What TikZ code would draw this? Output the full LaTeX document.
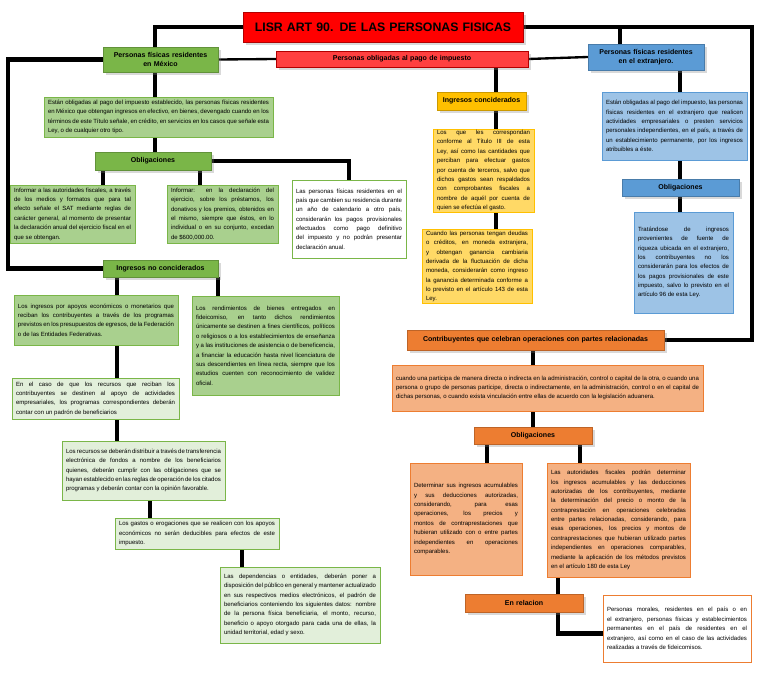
\documentclass[tikz,border=0pt]{standalone}
\usepackage{fontspec}
\setmainfont{Liberation Sans}
\usetikzlibrary{backgrounds,shadows}
\AtBeginDocument{\hyphenpenalty=10000 \exhyphenpenalty=10000}
\definecolor{hgreen}{HTML}{7AB648}
\definecolor{tgreen}{HTML}{A9D08E}
\definecolor{lgreen}{HTML}{E2EFDA}
\definecolor{hyellow}{HTML}{FFC000}
\definecolor{tyellow}{HTML}{FFD966}
\definecolor{hblue}{HTML}{5B9BD5}
\definecolor{tblue}{HTML}{9DC3E6}
\definecolor{horange}{HTML}{ED7D31}
\definecolor{torange}{HTML}{F4B183}
\newcommand\bx[7]{\pgfmathsetmacro\bw{(#4-#2-8)*0.03}\pgfmathsetmacro\bh{(#5-#3)*0.03}%
  \node[#1,text width=\bw cm,minimum height=\bh cm] (#6) at ({(#2+#4)/2},{(#3+#5)/2}) {#7};}
\tikzset{
  box/.style={draw,inner xsep=0.12cm,inner ysep=1pt,align=justify,
    font=\fontsize{5.15}{8}\selectfont},
  head/.style={box,align=center,font=\fontsize{6}{7.5}\selectfont\bfseries,drop shadow={opacity=.3}},
  conn/.style={line width=4pt}
}
\begin{document}
\begin{tikzpicture}[x=0.03cm,y=-0.03cm]
\useasboundingbox (0,0) rectangle (768,674);
% headers
\bx{head,fill=red,draw=red!70!black,font=\fontsize{10.5}{12}\selectfont\bfseries}{243}{12}{523}{42}{title}{LISR ART 90. DE LAS PERSONAS FISICAS}
\bx{head,fill=hgreen,draw=hgreen!80!black}{103}{47}{218}{72}{mx}{Personas físicas residentes\\en México}
\bx{head,fill=red!75,draw=red!70!black}{276}{51}{528}{67}{oblig}{Personas obligadas al pago de impuesto}
\bx{head,fill=hblue,draw=hblue!80!black}{588}{44}{704}{70}{ext}{Personas físicas residentes\\en el extranjero.}
% Mexico
\bx{box,fill=tgreen,draw=hgreen}{44}{97}{273}{137}{mxtxt}{Están obligadas al pago del impuesto establecido, las personas físicas residentes en México que obtengan ingresos en efectivo, en bienes, devengado cuando en los términos de este Título señale, en crédito, en servicios en los casos que señale esta Ley, o de cualquier otro tipo.}
\bx{head,fill=hgreen,draw=hgreen!80!black}{95}{152}{211}{170}{mxob}{Obligaciones}
\bx{box,fill=tgreen,draw=hgreen}{10}{185}{135}{243}{ob1}{Informar a las autoridades fiscales, a través de los medios y formatos que para tal efecto señale el SAT mediante reglas de carácter general, al momento de presentar la declaración anual del ejercicio fiscal en el que se obtengan.}
\bx{box,fill=tgreen,draw=hgreen}{167}{185}{278}{243}{ob2}{Informar: en la declaración del ejercicio, sobre los préstamos, los donativos y los premios, obtenidos en el mismo, siempre que éstos, en lo individual o en su conjunto, excedan de \$600,000.00.}
\bx{box,fill=white,draw=hgreen}{292}{180}{406}{258}{ob3}{Las personas físicas residentes en el país que cambien su residencia durante un año de calendario a otro país, considerarán los pagos provisionales efectuados como pago definitivo del impuesto y no podrán presentar declaración anual.}
\bx{head,fill=hgreen,draw=hgreen!80!black}{103}{260}{218}{277}{ingno}{Ingresos no conciderados}
\bx{box,fill=tgreen,draw=hgreen}{14}{295}{178}{345}{no1}{Los ingresos por apoyos económicos o monetarios que reciban los contribuyentes a través de los programas previstos en los presupuestos de egresos, de la Federación o de las Entidades Federativas.}
\bx{box,fill=tgreen,draw=hgreen}{192}{296}{339}{395}{no2}{Los rendimientos de bienes entregados en fideicomiso, en tanto dichos rendimientos únicamente se destinen a fines científicos, políticos o religiosos o a los establecimientos de enseñanza y a las instituciones de asistencia o de beneficencia, a financiar la educación hasta nivel licenciatura de sus descendientes en línea recta, siempre que los estudios cuenten con reconocimiento de validez oficial.}
\bx{box,fill=lgreen,draw=hgreen}{12}{378}{179}{419}{no3}{En el caso de que los recursos que reciban los contribuyentes se destinen al apoyo de actividades empresariales, los programas correspondientes deberán contar con un padrón de beneficiarios}
\bx{box,fill=lgreen,draw=hgreen}{62}{441}{225}{500}{no4}{Los recursos se deberán distribuir a través de transferencia electrónica de fondos a nombre de los beneficiarios quienes, deberán cumplir con las obligaciones que se hayan establecido en las reglas de operación de los citados programas y deberán contar con la opinión favorable.}
\bx{box,fill=lgreen,draw=hgreen}{115}{518}{279}{549}{no5}{Los gastos o erogaciones que se realicen con los apoyos económicos no serán deducibles para efectos de este impuesto.}
\bx{box,fill=lgreen,draw=hgreen}{220}{567}{380}{643}{no6}{Las dependencias o entidades, deberán poner a disposición del público en general y mantener actualizado en sus respectivos medios electrónicos, el padrón de beneficiarios conteniendo los siguientes datos: nombre de la persona física beneficiaria, el monto, recurso, beneficio o apoyo otorgado para cada una de ellas, la unidad territorial, edad y sexo.}
% ingresos considerados
\bx{head,fill=hyellow,draw=hyellow!80!black}{437}{92}{526}{110}{ingsi}{Ingresos conciderados}
\bx{box,fill=tyellow,draw=hyellow}{433}{133}{534}{208}{si1}{Los que les correspondan conforme al Título III de esta Ley, así como las cantidades que perciban para efectuar gastos por cuenta de terceros, salvo que dichos gastos sean respaldados con comprobantes fiscales a nombre de aquél por cuenta de quien se efectúa el gasto.}
\bx{box,fill=tyellow,draw=hyellow}{422}{235}{532}{298}{si2}{Cuando las personas tengan deudas o créditos, en moneda extranjera, y obtengan ganancia cambiaria derivada de la fluctuación de dicha moneda, considerarán como ingreso la ganancia determinada conforme a lo previsto en el artículo 143 de esta Ley.}
% extranjero
\bx{box,fill=tblue,draw=hblue}{602}{92}{747}{160}{exttxt}{Están obligadas al pago del impuesto, las personas físicas residentes en el extranjero que realicen actividades empresariales o presten servicios personales independientes, en el país, a través de un establecimiento permanente, por los ingresos atribuibles a éste.}
\bx{head,fill=hblue,draw=hblue!80!black}{622}{179}{739}{196}{extob}{Obligaciones}
\bx{box,fill=tblue,draw=hblue}{634}{212}{733}{313}{ext1}{Tratándose de ingresos provenientes de fuente de riqueza ubicada en el extranjero, los contribuyentes no los considerarán para los efectos de los pagos provisionales de este impuesto, salvo lo previsto en el artículo 96 de esta Ley.}
% partes relacionadas
\bx{head,fill=horange,draw=horange!80!black}{407}{330}{664}{350}{rel}{Contribuyentes que celebran operaciones con partes relacionadas}
\bx{box,fill=torange,draw=horange}{392}{365}{703}{411}{reltxt}{cuando una participa de manera directa o indirecta en la administración, control o capital de la otra, o cuando una persona o grupo de personas participe, directa o indirectamente, en la administración, control o en el capital de dichas personas, o cuando exista vinculación entre ellas de acuerdo con la legislación aduanera.}
\bx{head,fill=horange,draw=horange!80!black}{474}{427}{592}{444}{relob}{Obligaciones}
\bx{box,fill=torange,draw=horange}{410}{463}{522}{575}{rel1}{Determinar sus ingresos acumulables y sus deducciones autorizadas, considerando, para esas operaciones, los precios y montos de contraprestaciones que hubieran utilizado con o entre partes independientes en operaciones comparables.}
\bx{box,fill=torange,draw=horange}{547}{463}{690}{577}{rel2}{Las autoridades fiscales podrán determinar los ingresos acumulables y las deducciones autorizadas de los contribuyentes, mediante la determinación del precio o monto de la contraprestación en operaciones celebradas entre partes relacionadas, considerando, para esas operaciones, los precios y montos de contraprestaciones que hubieran utilizado partes independientes en operaciones comparables, mediante la aplicación de los métodos previstos en el artículo 180 de esta Ley}
\bx{head,fill=horange,draw=horange!80!black}{465}{594}{583}{612}{enrel}{En relacion}
\bx{box,fill=white,draw=horange}{603}{595}{751}{662}{enrel1}{Personas morales, residentes en el país o en el extranjero, personas físicas y establecimientos permanentes en el país de residentes en el extranjero, así como en el caso de las actividades realizadas a través de fideicomisos.}
% connectors
\begin{scope}[on background layer]
\coordinate (lft) at (8,0);
\coordinate (rgt) at (752,0);
\coordinate (cmx) at (155,0);
\coordinate (cext) at (620,0);
\coordinate (cext2) at (680,0);
\coordinate (csi) at (496,0);
\coordinate (cno) at (117,0);
\coordinate (cno2) at (218,0);
\coordinate (cno5) at (150,0);
\coordinate (cno6) at (242,0);
\coordinate (crel) at (533,0);
\coordinate (crel1) at (487,0);
\coordinate (crel2) at (580,0);
\coordinate (cob1) at (103,0);
\coordinate (cob2) at (200,0);
\coordinate (cen) at (558,0);
\draw[conn] (title.west) -| (cmx |- mx.north);
\draw[conn] (title.east) -- (title.east -| rgt) |- (rel.east);
\draw[conn] (title.east -| cext) -- (cext |- ext.north);
\draw[conn] (mx.west) -- (mx.west -| lft) |- (ingno.west);
\draw[line width=2pt] (mx.east) -- (oblig.west) (oblig.east) -- (ext.west);
\draw[conn] (csi |- oblig.south) -- (csi |- ingsi.north) (csi |- ingsi.south) -- (csi |- si1.north) (csi |- si1.south) -- (csi |- si2.north);
\draw[conn] (cext2 |- ext.south) -- (cext2 |- exttxt.north) (cext2 |- exttxt.south) -- (cext2 |- extob.north) (cext2 |- extob.south) -- (cext2 |- ext1.north);
\draw[conn] (cmx |- mx.south) -- (cmx |- mxtxt.north) (cmx |- mxtxt.south) -- (cmx |- mxob.north);
\draw[conn] (cob1 |- mxob.south) -- (cob1 |- ob1.north);
\draw[conn] (cob2 |- mxob.south) -- (cob2 |- ob2.north);
\draw[conn] (mxob.east) -| (ob3.north);
\draw[conn] (cno |- ingno.south) -- (cno |- no1.north) (cno |- no1.south) -- (cno |- no3.north) (cno |- no3.south) -- (cno |- no4.north);
\draw[conn] (cno2 |- ingno.south) -- (cno2 |- no2.north);
\draw[conn] (cno5 |- no4.south) -- (cno5 |- no5.north);
\draw[conn] (cno6 |- no5.south) -- (cno6 |- no6.north);
\draw[conn] (crel |- rel.south) -- (crel |- reltxt.north) (crel |- reltxt.south) -- (crel |- relob.north);
\draw[conn] (crel1 |- relob.south) -- (crel1 |- rel1.north);
\draw[conn] (crel2 |- relob.south) -- (crel2 |- rel2.north);
\draw[conn] (cen |- rel2.south) -- (cen |- enrel.north);
\draw[conn] (cen |- enrel.south) |- ([yshift=-1.5mm]enrel1.west);
\end{scope}
\end{tikzpicture}
\end{document}
